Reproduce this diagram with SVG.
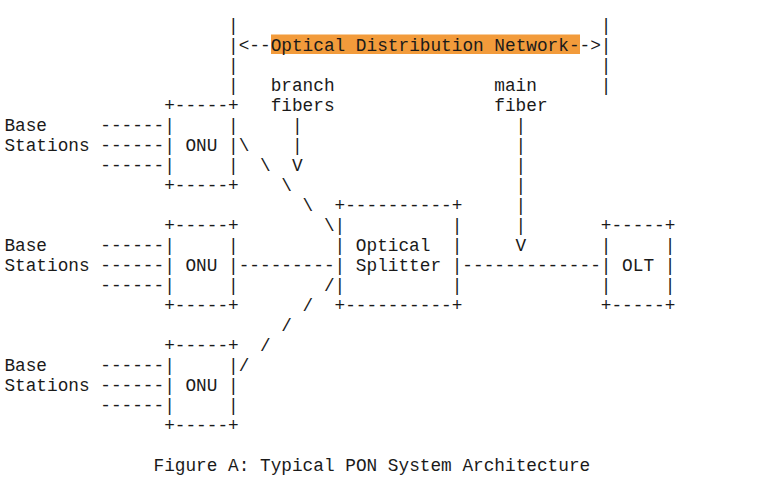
<svg xmlns="http://www.w3.org/2000/svg" width="768" height="478" viewBox="0 0 768 478">
<style>
text{font-family:"Liberation Mono","Courier New",monospace;font-size:17.75px;fill:#1a1a1a;white-space:pre}
.hl{fill:#f29b3b}
</style>
<rect width="768" height="478" fill="#ffffff"/>
<g id="odn-label">
<rect class="hl" x="271" y="34.5" width="309" height="19.5"/>
<text x="228.05" y="31">|</text>
<text x="600.8" y="31">|</text>
<text x="228.05" y="51" xml:space="preserve">|&lt;--Optical Distribution Network--&gt;|</text>
<text x="228.05" y="71">|</text>
<text x="600.8" y="71">|</text>
<text x="228.05" y="91">|</text>
<text x="600.8" y="91">|</text>
</g>
<g id="fiber-labels">
<text x="270.65" y="91">branch</text>
<text x="270.65" y="111">fibers</text>
<text x="494.3" y="91">main</text>
<text x="494.3" y="111">fiber</text>
</g>
<g id="base-stations-1">
<text x="4.4" y="131">Base</text>
<text x="4.4" y="151">Stations</text>
</g>
<g id="base-stations-2">
<text x="4.4" y="251">Base</text>
<text x="4.4" y="271">Stations</text>
</g>
<g id="base-stations-3">
<text x="4.4" y="371">Base</text>
<text x="4.4" y="391">Stations</text>
</g>
<g id="onu-1">
<text x="164.15" y="111" xml:space="preserve">+-----+</text>
<text x="164.15" y="131" xml:space="preserve">|     |</text>
<text x="164.15" y="151" xml:space="preserve">| ONU |</text>
<text x="164.15" y="171" xml:space="preserve">|     |</text>
<text x="164.15" y="191" xml:space="preserve">+-----+</text>
</g>
<g id="onu-2">
<text x="164.15" y="231" xml:space="preserve">+-----+</text>
<text x="164.15" y="251" xml:space="preserve">|     |</text>
<text x="164.15" y="271" xml:space="preserve">| ONU |</text>
<text x="164.15" y="291" xml:space="preserve">|     |</text>
<text x="164.15" y="311" xml:space="preserve">+-----+</text>
</g>
<g id="onu-3">
<text x="164.15" y="351" xml:space="preserve">+-----+</text>
<text x="164.15" y="371" xml:space="preserve">|     |</text>
<text x="164.15" y="391" xml:space="preserve">| ONU |</text>
<text x="164.15" y="411" xml:space="preserve">|     |</text>
<text x="164.15" y="431" xml:space="preserve">+-----+</text>
</g>
<g id="splitter">
<text x="334.55" y="211" xml:space="preserve">+----------+</text>
<text x="334.55" y="231" xml:space="preserve">|          |</text>
<text x="334.55" y="251" xml:space="preserve">| Optical  |</text>
<text x="334.55" y="271" xml:space="preserve">| Splitter |</text>
<text x="334.55" y="291" xml:space="preserve">|          |</text>
<text x="334.55" y="311" xml:space="preserve">+----------+</text>
</g>
<g id="olt">
<text x="600.8" y="231" xml:space="preserve">+-----+</text>
<text x="600.8" y="251" xml:space="preserve">|     |</text>
<text x="600.8" y="271" xml:space="preserve">| OLT |</text>
<text x="600.8" y="291" xml:space="preserve">|     |</text>
<text x="600.8" y="311" xml:space="preserve">+-----+</text>
</g>
<g id="connectors">
<text x="100.25" y="131">------</text>
<text x="100.25" y="151">------</text>
<text x="100.25" y="171">------</text>
<text x="100.25" y="251">------</text>
<text x="100.25" y="271">------</text>
<text x="100.25" y="291">------</text>
<text x="100.25" y="371">------</text>
<text x="100.25" y="391">------</text>
<text x="100.25" y="411">------</text>
<text x="291.95" y="131">|</text>
<text x="291.95" y="151">|</text>
<text x="291.95" y="171">V</text>
<text x="515.6" y="131">|</text>
<text x="515.6" y="151">|</text>
<text x="515.6" y="171">|</text>
<text x="515.6" y="191">|</text>
<text x="515.6" y="211">|</text>
<text x="515.6" y="231">|</text>
<text x="515.6" y="251">V</text>
<text x="238.7" y="151">\</text>
<text x="260" y="171">\</text>
<text x="281.3" y="191">\</text>
<text x="302.6" y="211">\</text>
<text x="323.9" y="231">\</text>
<text x="323.9" y="291">/</text>
<text x="302.6" y="311">/</text>
<text x="281.3" y="331">/</text>
<text x="260" y="351">/</text>
<text x="238.7" y="371">/</text>
<text x="238.7" y="271">---------</text>
<text x="462.35" y="271">-------------</text>
</g>
<g id="caption">
<text x="153.5" y="471">Figure A: Typical PON System Architecture</text>
</g>
</svg>
